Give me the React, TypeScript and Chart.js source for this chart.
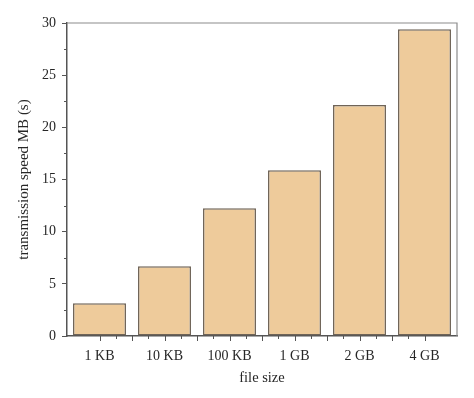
import React, { useEffect, useRef } from "react";
import { Chart, registerables } from "chart.js";

Chart.register(...registerables);

const categories = ["1 KB", "10 KB", "100 KB", "1 GB", "2 GB", "4 GB"];
const speedValues = [3.13, 6.68, 12.25, 15.88, 22.15, 29.4];
const yMin = 0;
const yMax = 30;
const yStep = 5;
const xTickAxisMax = 10;

const FONT = "'Liberation Serif', 'Times New Roman', serif";
const AXIS = "#555555";
const TEXT = "#262626";

const decorPlugin = {
  id: "decor",
  afterDraw(chart: any) {
    const { ctx, chartArea } = chart;
    const y = chart.scales.y;
    const xt = chart.scales.xt;
    ctx.save();
    // frame top and right
    ctx.strokeStyle = "#8c8c8c";
    ctx.lineWidth = 1.2;
    ctx.beginPath();
    ctx.moveTo(chartArea.left, chartArea.top);
    ctx.lineTo(chartArea.right, chartArea.top);
    ctx.lineTo(chartArea.right, chartArea.bottom);
    ctx.stroke();
    // y minor ticks
    ctx.strokeStyle = AXIS;
    ctx.lineWidth = 1;
    const yt = y.ticks;
    ctx.beginPath();
    for (let i = 0; i < yt.length - 1; i++) {
      const v = (yt[i].value + yt[i + 1].value) / 2;
      const py = Math.round(y.getPixelForValue(v)) + 0.5;
      ctx.moveTo(chartArea.left - 3, py);
      ctx.lineTo(chartArea.left, py);
    }
    ctx.stroke();
    // x ticks (major + minor) on an independent linear tick axis
    ctx.beginPath();
    for (let k = 0; k <= xTickAxisMax * 2; k++) {
      const v = k / 2;
      const px = Math.round(xt.getPixelForValue(v)) + 0.5;
      const len = k % 2 === 0 ? 5 : 3;
      ctx.moveTo(px, chartArea.bottom);
      ctx.lineTo(px, chartArea.bottom + len);
    }
    ctx.stroke();
    ctx.restore();
  },
};

export default function App() {
  const ref = useRef<HTMLCanvasElement>(null);
  useEffect(() => {
    document.body.style.margin = "0";
    const chart = new Chart(ref.current as HTMLCanvasElement, {
      type: "bar",
      data: {
        labels: categories,
        datasets: [
          {
            data: speedValues,
            backgroundColor: "#eecb9b",
            borderColor: "#6f6458",
            borderWidth: 1.5,
            borderSkipped: false,
            categoryPercentage: 1,
            barPercentage: 0.815,
          },
        ],
      },
      options: {
        animation: false,
        responsive: false,
        layout: { padding: { top: 23, right: 17, left: 0, bottom: 0 } },
        plugins: { legend: { display: false }, tooltip: { enabled: false } },
        scales: {
          x: {
            type: "category",
            grid: { display: true, drawOnChartArea: false, drawTicks: false },
            border: { color: AXIS, width: 1.5 },
            ticks: { color: TEXT, font: { family: FONT, size: 14 }, padding: 12 },
            title: {
              display: true,
              text: "file size",
              color: TEXT,
              font: { family: FONT, size: 14.5 },
              padding: { top: 0, bottom: 11 },
            },
            afterFit(scale: any) {
              scale.height = 62;
            },
          },
          xt: {
            type: "linear",
            position: "bottom",
            display: false,
            min: 0,
            max: xTickAxisMax,
          },
          y: {
            min: yMin,
            max: yMax,
            ticks: { stepSize: yStep, color: TEXT, font: { family: FONT, size: 14 }, padding: 6 },
            grid: { display: true, drawOnChartArea: false, tickLength: 5, tickColor: AXIS, lineWidth: 1 },
            border: { color: AXIS, width: 1.5 },
            title: {
              display: true,
              text: "transmission speed MB (s)",
              color: TEXT,
              font: { family: FONT, size: 15 },
              padding: { top: 15, bottom: 0 },
            },
            afterFit(scale: any) {
              scale.width = 67;
            },
          },
        },
      },
      plugins: [decorPlugin],
    } as any);
    return () => chart.destroy();
  }, []);
  return <canvas ref={ref} width={474} height={398} />;
}
